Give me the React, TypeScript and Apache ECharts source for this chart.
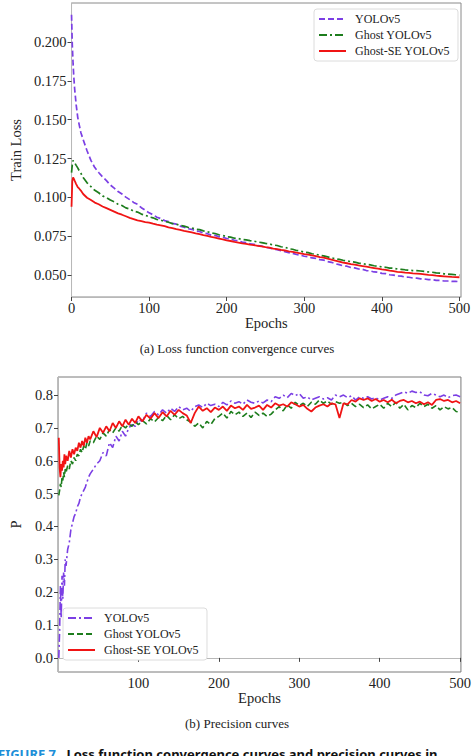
import React, { useEffect, useRef } from "react";
import * as echarts from "echarts";

// ---------- (a) training loss ----------
const lossEpochs = [
  0, 1, 2, 3, 4, 6, 8, 10, 12,
  15, 20, 25, 30, 35, 40, 45, 50, 55, 60,
  65, 70, 75, 80, 85, 90, 95, 100, 105, 110,
  115, 120, 125, 130, 135, 140, 145, 150, 155, 160,
  165, 170, 175, 180, 185, 190, 195, 200, 205, 210,
  215, 220, 225, 230, 235, 240, 245, 250, 255, 260,
  265, 270, 275, 280, 285, 290, 295, 300, 305, 310,
  315, 320, 325, 330, 335, 340, 345, 350, 355, 360,
  365, 370, 375, 380, 385, 390, 395, 400, 405, 410,
  415, 420, 425, 430, 435, 440, 445, 450, 455, 460,
  465, 470, 475, 480, 485, 490, 495, 500,
];

const lossYolo = [
  0.2175, 0.198, 0.186, 0.177, 0.170, 0.1595, 0.1515, 0.1465, 0.1418,
  0.1372, 0.1300, 0.1238, 0.1192, 0.1160, 0.1132, 0.1108, 0.1080, 0.1060, 0.1038,
  0.1022, 0.1002, 0.0986, 0.0968, 0.0956, 0.0934, 0.0918, 0.0901, 0.0889, 0.0873,
  0.0864, 0.0851, 0.0845, 0.0833, 0.0828, 0.0816, 0.0809, 0.0799, 0.0795, 0.0785,
  0.0781, 0.0770, 0.0767, 0.0758, 0.0756, 0.0747, 0.0744, 0.0736, 0.0732, 0.0725,
  0.0721, 0.0713, 0.0710, 0.0701, 0.0699, 0.0690, 0.0688, 0.0679, 0.0676, 0.0668,
  0.0664, 0.0657, 0.0652, 0.0645, 0.0641, 0.0633, 0.0629, 0.0622, 0.0619, 0.0611,
  0.0608, 0.0600, 0.0597, 0.0588, 0.0583, 0.0574, 0.0568, 0.0561, 0.0558, 0.0550,
  0.0547, 0.0540, 0.0538, 0.0530, 0.0528, 0.0521, 0.0519, 0.0512, 0.0510, 0.0503,
  0.0501, 0.0495, 0.0494, 0.0488, 0.0487, 0.0482, 0.0481, 0.0477, 0.0476, 0.0472,
  0.0471, 0.0467, 0.0467, 0.0463, 0.0463, 0.0460, 0.0461, 0.0458,
];

const lossGhost = [
  0.1160, 0.1212, 0.1238, 0.1232, 0.1224, 0.1206, 0.1190, 0.1171, 0.1156,
  0.1128, 0.1094, 0.1070, 0.1046, 0.1030, 0.1010, 0.0999, 0.0983, 0.0972, 0.0956,
  0.0948, 0.0933, 0.0926, 0.0912, 0.0906, 0.0893, 0.0886, 0.0875, 0.0869, 0.0858,
  0.0854, 0.0845, 0.0841, 0.0832, 0.0828, 0.0820, 0.0816, 0.0808, 0.0804, 0.0796,
  0.0793, 0.0785, 0.0780, 0.0772, 0.0768, 0.0760, 0.0756, 0.0748, 0.0745, 0.0738,
  0.0736, 0.0730, 0.0727, 0.0722, 0.0719, 0.0713, 0.0710, 0.0705, 0.0701, 0.0694,
  0.0691, 0.0683, 0.0680, 0.0670, 0.0667, 0.0659, 0.0656, 0.0648, 0.0645, 0.0638,
  0.0635, 0.0628, 0.0624, 0.0618, 0.0612, 0.0606, 0.0602, 0.0596, 0.0593, 0.0587,
  0.0584, 0.0578, 0.0575, 0.0570, 0.0566, 0.0561, 0.0558, 0.0553, 0.0551, 0.0546,
  0.0545, 0.0540, 0.0538, 0.0535, 0.0533, 0.0530, 0.0529, 0.0527, 0.0524, 0.0521,
  0.0519, 0.0515, 0.0513, 0.0509, 0.0507, 0.0505, 0.0503, 0.0500,
];

const lossGhostSE = [
  0.0940, 0.1105, 0.1128, 0.1120, 0.1108, 0.1086, 0.1066, 0.1056, 0.1044,
  0.1022, 0.0998, 0.0983, 0.0967, 0.0956, 0.0942, 0.0931, 0.0920, 0.0909, 0.0898,
  0.0889, 0.0879, 0.0869, 0.0861, 0.0853, 0.0848, 0.0842, 0.0838, 0.0831, 0.0825,
  0.0821, 0.0815, 0.0807, 0.0803, 0.0796, 0.0792, 0.0785, 0.0780, 0.0775, 0.0769,
  0.0764, 0.0758, 0.0753, 0.0746, 0.0742, 0.0735, 0.0731, 0.0724, 0.0720, 0.0714,
  0.0710, 0.0705, 0.0702, 0.0697, 0.0694, 0.0688, 0.0685, 0.0680, 0.0677, 0.0671,
  0.0668, 0.0663, 0.0659, 0.0654, 0.0650, 0.0645, 0.0641, 0.0636, 0.0632, 0.0627,
  0.0623, 0.0617, 0.0613, 0.0606, 0.0601, 0.0594, 0.0588, 0.0581, 0.0577, 0.0572,
  0.0568, 0.0563, 0.0559, 0.0555, 0.0550, 0.0546, 0.0542, 0.0537, 0.0534, 0.0529,
  0.0526, 0.0522, 0.0520, 0.0517, 0.0515, 0.0512, 0.0510, 0.0508, 0.0505, 0.0502,
  0.0500, 0.0497, 0.0495, 0.0493, 0.0491, 0.0489, 0.0488, 0.0487,
];

const lossTicks = [0.05, 0.075, 0.1, 0.125, 0.15, 0.175, 0.2];
const lossEpochTicks = [0, 100, 200, 300, 400, 500];

// ---------- (b) precision ----------
const precEpochs = [
  1, 2, 3, 4, 5, 6, 7, 8, 9, 10,
  12, 14, 16, 18, 20, 22, 24, 26, 28, 30, 32, 34, 36, 38, 40,
  44, 48, 52, 56, 60, 64, 68, 72, 76, 80, 84, 88, 92, 96, 100,
  105, 110, 115, 120, 125, 130, 135, 140, 145, 150,
  155, 160, 165, 170, 175, 180, 185, 190, 195, 200,
  205, 210, 215, 220, 225, 230, 235, 240, 245, 250,
  255, 260, 265, 270, 275, 280, 285, 290, 295, 300,
  305, 310, 315, 320, 325, 330, 335, 340, 345, 350,
  355, 360, 365, 370, 375, 380, 385, 390, 395, 400,
  405, 410, 415, 420, 425, 430, 435, 440, 445, 450,
  455, 460, 465, 470, 475, 480, 485, 490, 495, 500,
];

const precYolo = [
  0.0, 0.08, 0.22, 0.12, 0.25, 0.18, 0.26, 0.22, 0.30, 0.28,
  0.33, 0.35, 0.39, 0.41, 0.43, 0.44, 0.46, 0.47, 0.49, 0.50, 0.51, 0.52, 0.535, 0.55, 0.56,
  0.575, 0.59, 0.60, 0.625, 0.615, 0.655, 0.64, 0.675, 0.66, 0.69, 0.675, 0.70, 0.71, 0.705, 0.725,
  0.72, 0.745, 0.735, 0.75, 0.74, 0.755, 0.745, 0.76, 0.75, 0.765,
  0.755, 0.76, 0.75, 0.765, 0.77, 0.762, 0.775, 0.768, 0.772, 0.765,
  0.778, 0.77, 0.782, 0.775, 0.78, 0.772, 0.785, 0.778, 0.775, 0.782,
  0.776, 0.785, 0.78, 0.795, 0.79, 0.80, 0.792, 0.805, 0.798, 0.805,
  0.79, 0.795, 0.785, 0.79, 0.795, 0.788, 0.792, 0.785, 0.80, 0.795,
  0.80, 0.792, 0.798, 0.785, 0.795, 0.79, 0.795, 0.788, 0.792, 0.785,
  0.79, 0.795, 0.79, 0.80, 0.805, 0.81, 0.805, 0.812, 0.808, 0.81,
  0.80, 0.798, 0.805, 0.80, 0.795, 0.80, 0.792, 0.798, 0.80, 0.795,
];

const precGhost = [
  0.495, 0.51, 0.53, 0.52, 0.55, 0.54, 0.565, 0.55, 0.575, 0.565,
  0.585, 0.575, 0.60, 0.59, 0.61, 0.60, 0.62, 0.615, 0.635, 0.625, 0.645, 0.635, 0.655, 0.645, 0.66,
  0.655, 0.675, 0.665, 0.685, 0.675, 0.695, 0.685, 0.70, 0.69, 0.708, 0.70, 0.712, 0.705, 0.718, 0.71,
  0.722, 0.712, 0.728, 0.718, 0.732, 0.722, 0.738, 0.725, 0.74, 0.728,
  0.735, 0.725, 0.718, 0.705, 0.715, 0.70, 0.72, 0.71, 0.728, 0.735,
  0.745, 0.73, 0.75, 0.74, 0.748, 0.735, 0.745, 0.732, 0.748, 0.738,
  0.745, 0.735, 0.742, 0.755, 0.765, 0.752, 0.77, 0.76, 0.778, 0.768,
  0.775, 0.765, 0.778, 0.772, 0.785, 0.775, 0.782, 0.772, 0.78, 0.775,
  0.778, 0.768, 0.775, 0.765, 0.772, 0.762, 0.77, 0.758, 0.765, 0.772,
  0.76, 0.775, 0.765, 0.778, 0.76, 0.772, 0.755, 0.768, 0.762, 0.775,
  0.765, 0.772, 0.76, 0.768, 0.755, 0.765, 0.758, 0.762, 0.75, 0.748,
];

const precGhostSE = [
  0.67, 0.58, 0.55, 0.59, 0.57, 0.60, 0.58, 0.62, 0.59, 0.615,
  0.60, 0.63, 0.61, 0.635, 0.62, 0.64, 0.63, 0.655, 0.64, 0.66, 0.645, 0.67, 0.655, 0.675, 0.665,
  0.69, 0.672, 0.70, 0.685, 0.705, 0.69, 0.715, 0.70, 0.72, 0.705, 0.725, 0.71, 0.728, 0.715, 0.735,
  0.72, 0.74, 0.728, 0.745, 0.73, 0.748, 0.735, 0.752, 0.74, 0.755,
  0.745, 0.738, 0.715, 0.745, 0.765, 0.752, 0.76, 0.748, 0.762, 0.755,
  0.765, 0.752, 0.768, 0.76, 0.765, 0.755, 0.77, 0.758, 0.762, 0.768,
  0.755, 0.77, 0.762, 0.775, 0.768, 0.772, 0.765, 0.778, 0.772, 0.765,
  0.77, 0.758, 0.75, 0.762, 0.768, 0.772, 0.765, 0.775, 0.772, 0.73,
  0.775, 0.772, 0.785, 0.78, 0.79, 0.785, 0.79, 0.782, 0.788, 0.78,
  0.785, 0.778, 0.786, 0.775, 0.782, 0.785, 0.778, 0.782, 0.775, 0.78,
  0.772, 0.778, 0.77, 0.785, 0.788, 0.782, 0.785, 0.778, 0.782, 0.775,
];

const precTicks = [0, 0.1, 0.2, 0.3, 0.4, 0.5, 0.6, 0.7, 0.8];
const precEpochTicks = [100, 200, 300, 400, 500];

const seriesNames = ["YOLOv5", "Ghost YOLOv5", "Ghost-SE YOLOv5"];

const PURPLE = "#7b3fe4";
const GREEN = "#1d7d1d";
const RED = "#f01414";
const COLORS = [PURPLE, GREEN, RED];
const DASHED = [6, 3];
const DASHDOT = [8, 3, 2, 3];

const SERIF = "'Liberation Serif', 'Times New Roman', serif";

const pairs = (xs: number[], ys: number[]) => xs.map((x, i) => [x, ys[i]]);

function valueAxis(fmt: (v: number) => string, ticks: number[], margin: number) {
  return {
    type: "value" as const,
    splitLine: { show: false },
    axisLine: { show: true, lineStyle: { color: "#b8b8b8", width: 1 } },
    axisTick: {
      show: true,
      inside: false,
      length: 4,
      customValues: ticks,
      lineStyle: { color: "#444", width: 1 },
    },
    axisLabel: {
      customValues: ticks,
      formatter: (v: number) => fmt(v),
      color: "#222",
      fontFamily: SERIF,
      fontSize: 14.5,
      margin,
    },
    nameTextStyle: { color: "#222", fontFamily: SERIF, fontSize: 14.5 },
  };
}

// Boxed legend listing the three models with the dash patterns of one panel
function legendBox(left: number, top: number, dashes: (number[] | "solid")[]) {
  return {
    orient: "vertical" as const,
    left,
    top,
    itemWidth: 27,
    itemHeight: 14,
    itemGap: 4,
    padding: [4, 8, 4, 4],
    backgroundColor: "#fff",
    borderColor: "#dcdcdc",
    borderWidth: 1,
    borderRadius: 3,
    selectedMode: false,
    textStyle: { color: "#222", fontFamily: SERIF, fontSize: 12, padding: [0, 0, 0, 4] },
    data: seriesNames.map((n, i) => ({
      name: n,
      itemStyle: { color: "rgba(0,0,0,0)", borderWidth: 0, borderColor: "rgba(0,0,0,0)" },
      lineStyle: { color: COLORS[i], width: 2, type: dashes[i] },
    })),
  };
}

export default function App() {
  const ref = useRef<HTMLDivElement>(null);

  useEffect(() => {
    if (!ref.current) return;
    const chart = echarts.init(ref.current, null, { renderer: "svg" });

    const line = (
      name: string,
      color: string,
      dash: number[] | "solid",
      data: number[][],
      idx: number,
      width: number
    ) => ({
      type: "line" as const,
      name,
      xAxisIndex: idx,
      yAxisIndex: idx,
      data,
      symbol: "none",
      showSymbol: false,
      lineStyle: { color, width, type: dash },
      itemStyle: { color },
      emphasis: { disabled: true },
    });

    chart.setOption({
      animation: false,
      backgroundColor: "#fff",
      textStyle: { fontFamily: SERIF },
      grid: [
        { left: 67, top: 3, width: 394, height: 294, show: true, borderColor: "#8a8a8a", borderWidth: 1 },
        { left: 58, top: 377, width: 403, height: 295, show: true, borderColor: "#7a7a7a", borderWidth: 1 },
      ],
      xAxis: [
        {
          ...valueAxis((v) => String(v), lossEpochTicks, 3),
          gridIndex: 0,
          min: 0,
          max: 502,
          name: "Epochs",
          nameLocation: "middle",
          nameGap: 18,
        },
        {
          ...valueAxis((v) => String(v), precEpochTicks, 3),
          gridIndex: 1,
          min: 0,
          max: 501,
          name: "Epochs",
          nameLocation: "middle",
          nameGap: 17,
        },
      ],
      yAxis: [
        {
          ...valueAxis((v) => v.toFixed(3), lossTicks, 5),
          gridIndex: 0,
          min: 0.036,
          max: 0.225,
          name: "Train Loss",
          nameLocation: "middle",
          nameRotate: 90,
          nameGap: 42,
        },
        {
          ...valueAxis((v) => v.toFixed(1), precTicks, 5),
          gridIndex: 1,
          min: -0.043,
          max: 0.855,
          name: "P",
          nameLocation: "middle",
          nameRotate: 90,
          nameGap: 30,
        },
      ],
      legend: [
        legendBox(314, 9, [DASHED, DASHDOT, "solid"]),
        legendBox(63, 608, [DASHDOT, DASHED, "solid"]),
      ],
      series: [
        line(seriesNames[0], PURPLE, DASHED, pairs(lossEpochs, lossYolo), 0, 1.7),
        line(seriesNames[1], GREEN, DASHDOT, pairs(lossEpochs, lossGhost), 0, 1.7),
        line(seriesNames[2], RED, "solid", pairs(lossEpochs, lossGhostSE), 0, 1.8),
        line(seriesNames[0], PURPLE, DASHDOT, pairs(precEpochs, precYolo), 1, 1.6),
        line(seriesNames[1], GREEN, DASHED, pairs(precEpochs, precGhost), 1, 1.6),
        line(seriesNames[2], RED, "solid", pairs(precEpochs, precGhostSE), 1, 1.8),
      ],
      graphic: [
        {
          type: "text",
          left: "center",
          top: 342,
          style: {
            text: "(a) Loss function convergence curves",
            fill: "#222",
            fontFamily: SERIF,
            fontSize: 13,
          },
        },
        {
          type: "text",
          left: "center",
          top: 717,
          style: {
            text: "(b) Precision curves",
            fill: "#222",
            fontFamily: SERIF,
            fontSize: 13,
          },
        },
        {
          type: "text",
          x: -2,
          y: 747,
          style: {
            text: "{a|FIGURE 7.}  {b|Loss function convergence curves and precision curves in}",
            rich: {
              a: { fill: "#1d8fd8", fontFamily: "'Noto Sans', sans-serif", fontWeight: "bold", fontSize: 13 },
              b: { fill: "#111", fontFamily: "'Noto Sans', sans-serif", fontWeight: "bold", fontSize: 13 },
            },
            verticalAlign: "top",
          },
        },
      ],
    });

    return () => chart.dispose();
  }, []);

  return (
    <div
      ref={ref}
      style={{ position: "fixed", left: 0, top: 0, width: 474, height: 756, background: "#fff" }}
    />
  );
}
